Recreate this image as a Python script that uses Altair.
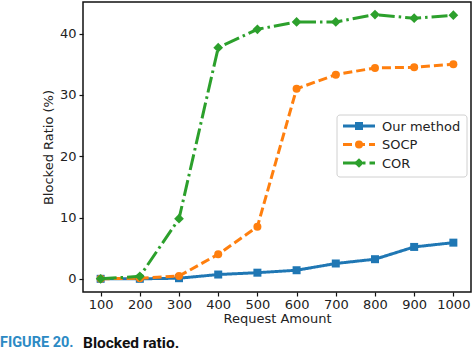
import altair as alt
import pandas as pd

requests = [100, 200, 300, 400, 500, 600, 700, 800, 900, 1000]
our_method = [0.0, 0.0, 0.1, 0.7, 1.0, 1.4, 2.5, 3.2, 5.2, 5.9]
socp = [0.0, 0.1, 0.45, 4.0, 8.5, 31.0, 33.3, 34.4, 34.5, 35.0]
cor = [0.0, 0.4, 9.8, 37.7, 40.7, 41.9, 41.9, 43.1, 42.5, 43.0]

series_names = ["Our method", "SOCP", "COR"]
series_values = [our_method, socp, cor]
colors = ["#1f77b4", "#ff7f0e", "#2ca02c"]
shapes = ["square", "circle", "diamond"]
shape_sizes = [64, 64, 95]
dashes = [[1, 0], [9, 4], [16, 4, 2.5, 4]]

x_ticks = requests
y_ticks = [0, 10, 20, 30, 40]

W, H = 388, 290
FONT = "DejaVu Sans"
CAP_FONT = "Roboto"

x_enc = alt.X("x:Q", scale=alt.Scale(domain=[55, 1045], nice=False, zero=False),
              axis=alt.Axis(values=x_ticks, format="d", title="Request Amount"))
y_enc = alt.Y("y:Q", scale=alt.Scale(domain=[-2.15, 45.15], nice=False, zero=False),
              axis=alt.Axis(values=y_ticks, format="d", title="Blocked Ratio (%)"))

layers = []
for name, vals, c, sh, sz, d in zip(series_names, series_values, colors, shapes, shape_sizes, dashes):
    df = pd.DataFrame({"x": requests, "y": vals, "series": name})
    base = alt.Chart(df)
    layers.append(base.mark_line(color=c, strokeWidth=3, strokeDash=d).encode(x=x_enc, y=y_enc))
    layers.append(base.mark_point(color=c, shape=sh, size=sz, filled=True, opacity=1).encode(x=x_enc, y=y_enc))

# legend (manual, matplotlib-style)
one = pd.DataFrame({"k": [0]})
lx0, lx1, ly0, ly1 = 337 - 83, 467 - 83, 115 - 2, 177 - 2
layers.append(alt.Chart(one).mark_rect(fill="white", stroke="#cccccc", strokeWidth=1,
                                       cornerRadius=3, opacity=0.9).encode(
    x=alt.value(lx0), x2=alt.value(lx1), y=alt.value(ly0), y2=alt.value(ly1)))
row_y = [126 - 2, 144.5 - 2, 163 - 2]
for i, (name, c, sh, sz, d) in enumerate(zip(series_names, colors, shapes, shape_sizes, dashes)):
    ldf = pd.DataFrame({"series": [name]})
    lb = alt.Chart(ldf)
    layers.append(lb.mark_rule(color=c, strokeWidth=3, strokeDash=d).encode(
        x=alt.value(343 - 83), x2=alt.value(375 - 83), y=alt.value(row_y[i])))
    layers.append(lb.mark_point(color=c, shape=sh, size=sz, filled=True, opacity=1).encode(
        x=alt.value(359 - 83), y=alt.value(row_y[i])))
    layers.append(lb.mark_text(align="left", baseline="middle", font=FONT, fontSize=13,
                               color="#222222").encode(
        x=alt.value(382 - 83), y=alt.value(row_y[i] + 0.5), text="series:N"))

# caption
cap = pd.DataFrame({"a": ["FIGURE 20."], "b": ["Blocked ratio."]})
layers.append(alt.Chart(cap).mark_text(align="left", baseline="middle", font=CAP_FONT,
                                        fontSize=14.5, fontWeight="bold", color="#2c8ac4").encode(
    x=alt.value(0 - 83), y=alt.value(343 - 2), text="a:N"))
layers.append(alt.Chart(cap).mark_text(align="left", baseline="middle", font=CAP_FONT,
                                        fontSize=15.5, fontWeight="bold", color="#111111").encode(
    x=alt.value(83 - 83), y=alt.value(343 - 2), text="b:N"))

chart = alt.layer(*layers).properties(
    width=W, height=H,
    autosize=alt.AutoSizeParams(type="none"),
    padding={"left": 83, "top": 2, "right": 3, "bottom": 59},
).configure_view(
    stroke="#111111", strokeWidth=1.5
).configure_axis(
    grid=False, domain=False,
    labelFont=FONT, labelFontSize=13, labelColor="#222222",
    titleFont=FONT, titleFontSize=13, titleFontWeight="normal", titleColor="#222222",
    tickColor="#111111", tickSize=4, tickWidth=1.2,
).configure_axisX(
    labelPadding=2, titlePadding=1,
).configure_axisY(
    labelPadding=3, titlePadding=4,
)

chart.save("out.html", embed_options={"renderer": "svg", "actions": False})
